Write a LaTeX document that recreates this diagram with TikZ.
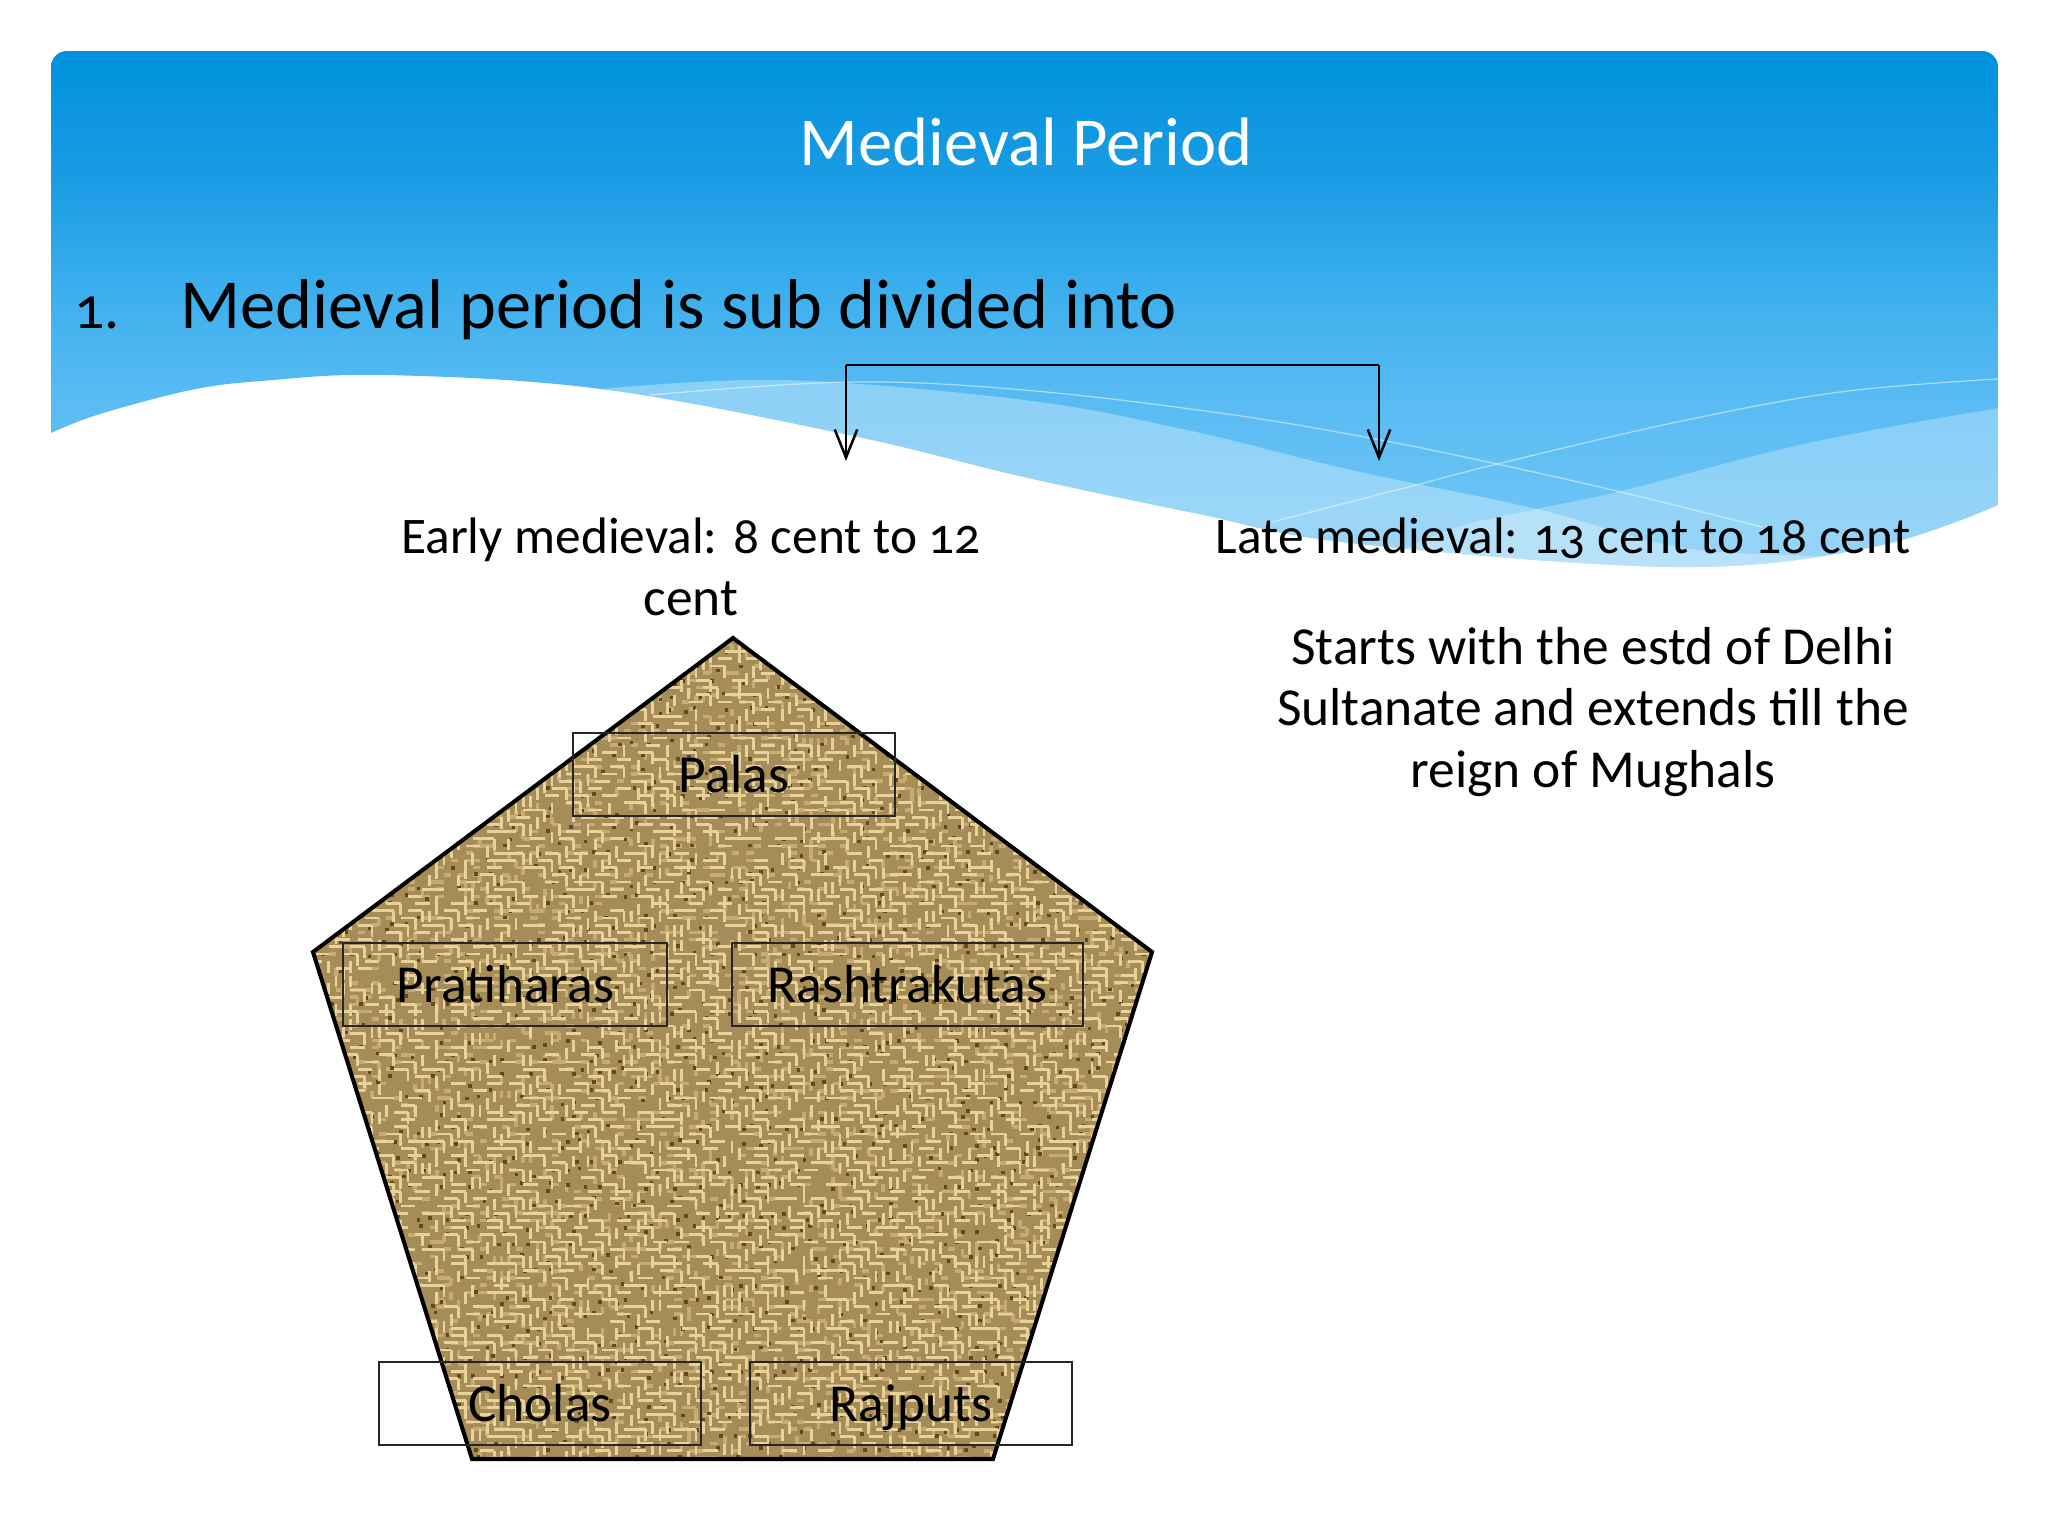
\documentclass[tikz,border=0pt]{standalone}
\usepackage{fontspec}
\setmainfont[Numbers=OldStyle]{Carlito}
\usetikzlibrary{arrows.meta}
\definecolor{burlapbase}{HTML}{A68C56}
\definecolor{burlapmid}{HTML}{C6AB72}
\definecolor{burlaplight}{HTML}{E8D29A}
\definecolor{burlapdark}{HTML}{64491F}
\definecolor{skya}{HTML}{6FC5F6}
\definecolor{skyb}{HTML}{6AC3F5}
\definecolor{skyc}{HTML}{58BBF3}
\definecolor{skyd}{HTML}{3FB0EE}
\definecolor{skye}{HTML}{1A9CE4}
\definecolor{skyf}{HTML}{0091DD}
\pgfdeclareverticalshading{skyfall}{100bp}{
  color(0bp)=(skya);
  color(25bp)=(skya);
  color(31.5bp)=(skyb);
  color(41.5bp)=(skyc);
  color(51bp)=(skyd);
  color(62.5bp)=(skye);
  color(75bp)=(skyf);
  color(100bp)=(skyf)}
\def\waveline{(1873,547) (1677,567) (1350,543) (1194,513) (1024,477) (849,435) (601,389) (385,375) (261,381) (196,389) (131,405) (85,419) (51,433)}
\newcount\gi \newcount\gm
\def\cell{7.2}
\tikzset{
  every node/.style={inner sep=0pt,outer sep=0pt},
  bodytext/.style={font=\fontsize{15.2pt}{17.4pt}\selectfont,anchor=base,text=black},
  datedtext/.style={font=\fontsize{14.6pt}{17.4pt}\selectfont,anchor=base,text=black},
  boxlabel/.style={draw=black!85,line width=0.5pt,text depth=0pt,text height=10pt,align=center,font=\fontsize{15.2pt}{17.4pt}\selectfont,minimum height=23.6pt},
  elbow/.style={line width=0.72pt,black,-{Straight Barb[length=8pt,width=6.4pt,line width=0.72pt]}},
  thread/.style={white,opacity=.5,line width=0.35pt}
}
\begin{document}
\begin{tikzpicture}[x=0.01cm,y=-0.01cm]
\useasboundingbox (0,0) rectangle (2048,1536);
\fill[white] (0,0) rectangle (2048,1536);
% header
\begin{scope}
\clip[rounded corners=0.16cm] (51,250) -- (51,51) -- (1998,51) -- (1998,250) [sharp corners] -- (1998,505) -- plot[smooth,tension=.6] coordinates {(1998,505) \waveline} -- cycle;
\shade[shading=skyfall] (51,51) rectangle (1998,570);
\fill[white,opacity=.32] plot[smooth,tension=.6] coordinates {(601,389) (784,380) (1024,400) (1187,430) (1351,470) (1537,509) (1677,547) (1808,556) (1900,560)} -- (1900,600) -- (601,600) -- cycle;
\fill[white,opacity=.28] plot[smooth,tension=.6] coordinates {(1998,408) (1808,443) (1625,490) (1537,509) (1449,530) (1350,575)} -- (1350,600) -- (1998,600) -- cycle;
\draw[thread] plot[smooth,tension=.6] coordinates {(650,395) (849,382) (1024,390) (1220,413) (1370,438) (1497,464) (1625,493) (1762,527)};
\draw[thread] plot[smooth,tension=.6] coordinates {(1272,522) (1416,485) (1497,464) (1677,422) (1840,392) (1998,379)};
\end{scope}
% pentagon
\coordinate (pt) at (733,638);
\coordinate (pr) at (1152,952);
\coordinate (pbr) at (993,1459);
\coordinate (pbl) at (472,1459);
\coordinate (pl) at (313,952);
\begin{scope}
\clip (pt) -- (pr) -- (pbr) -- (pbl) -- (pl) -- cycle;
\fill[burlapbase] (300,630) rectangle (1160,1465);
\pgfmathsetseed{4242}
\foreach \j in {0,...,116}{
  \begin{scope}[draw=burlapmid,line width=1pt]
  \foreach \i in {0,...,120}{
    \pgfmathrandominteger{\r}{0}{9}
    \ifnum\r<2\relax
      \pgfmathsetmacro{\xa}{300+\i*\cell}\pgfmathsetmacro{\ya}{630+\j*\cell}
      \draw (\xa,\ya) -- ++(\cell,0);
    \fi
    \ifnum\r=5\relax
      \pgfmathsetmacro{\xa}{300+\i*\cell}\pgfmathsetmacro{\ya}{630+\j*\cell}
      \draw (\xa,\ya) -- ++(0,\cell);
    \fi
  }
  \end{scope}
}
\foreach \j in {0,...,58}{
  \begin{scope}[fill=burlapdark]
  \foreach \i in {0,...,60}{
    \pgfmathrandominteger{\r}{0}{9}
    \ifnum\r<5\relax
      \pgfmathsetmacro{\xa}{304+\i*2*\cell+\r*3}\pgfmathsetmacro{\ya}{634+\j*2*\cell+\r*2}
      \fill (\xa,\ya) rectangle ++(3.6,3.6);
    \fi
  }
  \end{scope}
}
\foreach \j in {0,...,116}{
  \begin{scope}[draw=burlaplight,line width=0.8pt]
  \foreach \i in {0,...,120}{
    \gm=\numexpr\i+\j+(\i/7)*3+(\j/5)*(\i/11+1)\relax
    \gi=\gm \divide\gi by 4 \multiply\gi by 4 \advance\gi by -\gm
    \pgfmathrandominteger{\r}{0}{9}
    \ifnum\r>2\relax
      \pgfmathsetmacro{\xa}{300+\i*\cell}\pgfmathsetmacro{\ya}{630+\j*\cell}
      \ifnum\gi=0\relax \draw (\xa,\ya) -- ++(2*\cell,0);\fi
      \ifnum\gi=-2\relax \draw (\xa,\ya) -- ++(0,1.6*\cell);\fi
    \fi
  }
  \end{scope}
}
\end{scope}
\draw[line width=1.15pt,line join=miter,black] (pt) -- (pr) -- (pbr) -- (pbl) -- (pl) -- cycle;
% boxes
\node[boxlabel,minimum width=91.6pt] (palas) at (734,774.5) {Palas};
\node[boxlabel,minimum width=92.2pt] (prat) at (505,984.5) {Pratiharas};
\node[boxlabel,minimum width=99.9pt] (rash) at (907.5,984.5) {Rashtrakutas};
\node[boxlabel,minimum width=91.6pt] (chol) at (540,1403.5) {Cholas};
\node[boxlabel,minimum width=91.6pt] (raj) at (911,1403.5) {Rajputs};
% text
\node[anchor=base,text=white,font=\fontsize{19.5pt}{24pt}\selectfont] (title) at (1026,165) {Medieval Period};
\node[anchor=base west,font=\fontsize{17pt}{24pt}\selectfont] (num) at (74,328) {1.};
\node[anchor=base west,font=\fontsize{20pt}{24pt}\selectfont] (head) at (180,328) {Medieval period is sub divided into};
\node[datedtext] (early1) at (691,553) {Early medieval: 8 cent to 12};
\node[bodytext] (early2) at (691,615) {cent};
\node[datedtext] (late) at (1563,553) {Late medieval: 13 cent to 18 cent};
\node[bodytext] (s1) at (1593,664) {Starts with the estd of Delhi};
\node[bodytext] (s2) at (1593,725) {Sultanate and extends till the};
\node[bodytext] (s3) at (1593,787) {reign of Mughals};
% connectors
\coordinate (bl) at (846,365);
\coordinate (br) at (1379,365);
\coordinate (al) at (846,461);
\coordinate (ar) at (1379,461);
\draw[line width=0.72pt] (bl) -- (br);
\draw[elbow] (bl) -- (al);
\draw[elbow] (br) -- (ar);
\end{tikzpicture}
\end{document}
